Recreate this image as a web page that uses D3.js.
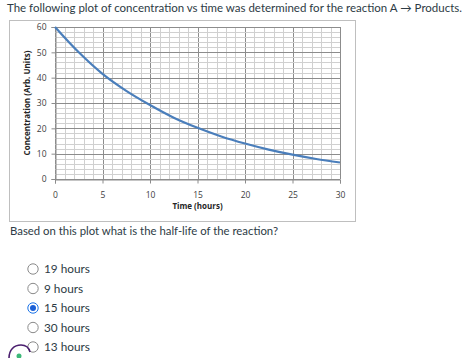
<!DOCTYPE html>
<html>
<head>
<meta charset="utf-8">
<script src="https://cdn.jsdelivr.net/npm/d3@7"></script>
<style>
  body { margin: 0; background: #fff; }
  svg { display: block; }
</style>
</head>
<body>
<div id="chart"></div>
<script>
// values
const times = [0, 2.5, 5, 7.5, 10, 12.5, 15, 17.5, 20, 22.5, 25, 27.5, 30];
const concentrations = [60, 50, 41.5, 34.8, 29.2, 24.2, 20.2, 16.8, 14, 11.6, 9.6, 7.9, 6.5];
const xTicks = [0, 5, 10, 15, 20, 25, 30];
const yTicks = [0, 10, 20, 30, 40, 50, 60];
const answers = ["19 hours", "9 hours", "15 hours", "30 hours", "13 hours"];
const selectedAnswer = "15 hours";

const width = 474, height = 358;
const svg = d3.select("#chart").append("svg")
    .attr("width", width)
    .attr("height", height);

const uiFont = "Lato, 'Open Sans', sans-serif";
const chartFont = "'Open Sans', 'Liberation Sans', sans-serif";

// question header
svg.append("text")
    .attr("x", 7).attr("y", 12)
    .attr("font-family", uiFont).attr("font-size", 11.6)
    .attr("fill", "#2d3b45")
    .attr("textLength", 455).attr("lengthAdjust", "spacingAndGlyphs")
    .text("The following plot of concentration vs time was determined for the reaction A \u2192 Products.");

// chart frame
svg.append("rect")
    .attr("x", 9.5).attr("y", 20.5)
    .attr("width", 346).attr("height", 201)
    .attr("fill", "#fff").attr("stroke", "#bfbfbf");

const x = d3.scaleLinear().domain([0, 30]).range([55, 340]);
const y = d3.scaleLinear().domain([0, 60]).range([179, 27]);

// grid: minor every 1 h / 2 units, major every 5 h / 10 units
const grid = svg.append("g");
grid.selectAll(".v").data(d3.range(0, 31, 1)).join("line")
    .attr("x1", d => Math.round(x(d)) + 0.5).attr("x2", d => Math.round(x(d)) + 0.5)
    .attr("y1", y(60)).attr("y2", y(0))
    .attr("stroke", d => d % 5 === 0 ? "#8c8c8c" : "#d0d0d0");
grid.selectAll(".h").data(d3.range(0, 61, 2)).join("line")
    .attr("y1", d => Math.round(y(d)) + 0.5).attr("y2", d => Math.round(y(d)) + 0.5)
    .attr("x1", x(0)).attr("x2", x(30))
    .attr("stroke", d => d % 10 === 0 ? "#8c8c8c" : "#d0d0d0");

// axes
const xAxis = svg.append("g")
    .attr("transform", `translate(0,${y(0) + 0.5})`)
    .call(d3.axisBottom(x).tickValues(xTicks).tickSize(4).tickPadding(4));
const yAxis = svg.append("g")
    .attr("transform", `translate(${x(0) + 0.5},0)`)
    .call(d3.axisLeft(y).tickValues(yTicks).tickSize(4).tickPadding(4));
[xAxis, yAxis].forEach(g => {
    g.select(".domain").attr("stroke", "#8c8c8c");
    g.selectAll(".tick line").attr("stroke", "#8c8c8c");
    g.selectAll(".tick text")
        .attr("font-family", chartFont).attr("font-size", 8.5)
        .attr("fill", "#404040");
});
xAxis.selectAll(".tick text").attr("dy", "1.2em");
yAxis.selectAll(".tick text").attr("dx", "-1");

// axis titles
svg.append("text")
    .attr("x", (x(0) + x(30)) / 2).attr("y", 209)
    .attr("text-anchor", "middle")
    .attr("font-family", chartFont).attr("font-size", 8).attr("font-weight", "bold")
    .attr("fill", "#262626")
    .text("Time (hours)");
svg.append("text")
    .attr("transform", `translate(30,${(y(0) + y(60)) / 2}) rotate(-90)`)
    .attr("text-anchor", "middle")
    .attr("font-family", chartFont).attr("font-size", 8).attr("font-weight", "bold")
    .attr("fill", "#262626")
    .text("Concentration (Arb. Units)");

// curve
const line = d3.line()
    .x((d, i) => x(times[i]))
    .y(d => y(d))
    .curve(d3.curveCatmullRom);
svg.append("path")
    .datum(concentrations)
    .attr("d", line)
    .attr("fill", "none")
    .attr("stroke", "#4a7ebb")
    .attr("stroke-width", 2.2);

// question
svg.append("text")
    .attr("x", 10).attr("y", 235)
    .attr("font-family", uiFont).attr("font-size", 11.6)
    .attr("fill", "#2d3b45")
    .attr("textLength", 268).attr("lengthAdjust", "spacingAndGlyphs")
    .text("Based on this plot what is the half-life of the reaction?");

const opts = svg.append("g").selectAll("g").data(answers).join("g")
    .attr("transform", (d, i) => `translate(33,${269 + i * 19.5})`);
opts.append("circle")
    .attr("r", 5.2)
    .attr("fill", "#fff")
    .attr("stroke", d => d === selectedAnswer ? "#1a73e8" : "#8a8a8a")
    .attr("stroke-width", 1);
opts.filter(d => d === selectedAnswer).append("circle")
    .attr("r", 3)
    .attr("fill", "#1a5fd6");
opts.append("text")
    .attr("x", 11).attr("y", 4.3)
    .attr("font-family", uiFont).attr("font-size", 11.8)
    .attr("fill", "#2d3b45")
    .text(d => d);

// stray hand-drawn mark at bottom left
svg.append("path")
    .attr("d", "M9,358 C9,350 14,345 21,345 C26,345 29,348 30,352")
    .attr("fill", "none").attr("stroke", "#4b1f6f").attr("stroke-width", 1.6);
svg.append("circle")
    .attr("cx", 19).attr("cy", 356).attr("r", 2.5)
    .attr("fill", "#3cb878");
</script>
</body>
</html>
